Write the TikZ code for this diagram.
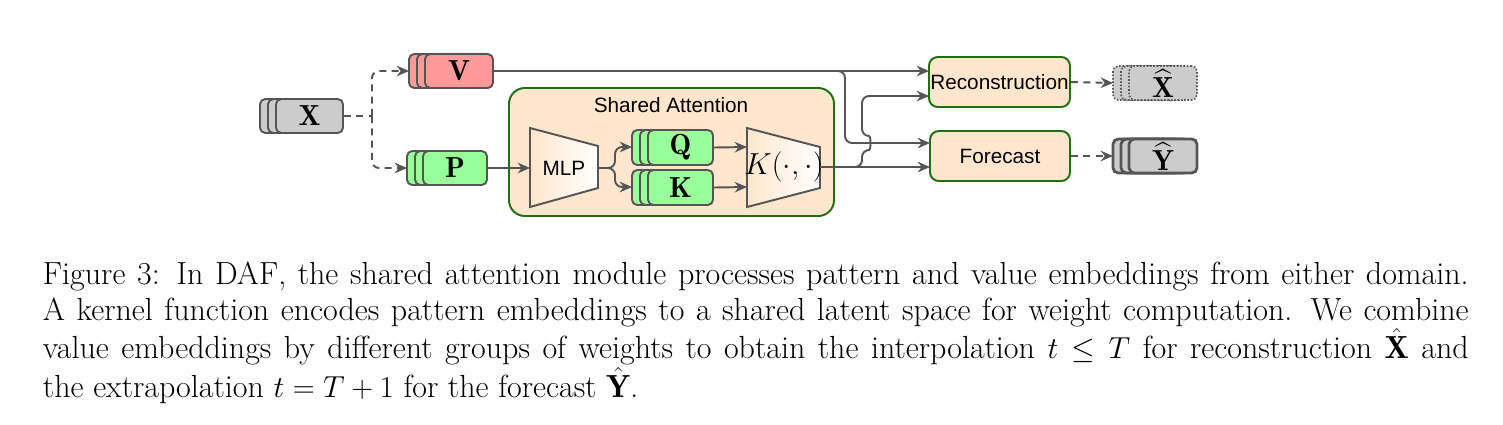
\documentclass[tikz,border=0pt]{standalone}
\usepackage{fontspec}
\newfontfamily\lsans{Liberation Sans}
\usetikzlibrary{arrows.meta}
\definecolor{ln}{HTML}{555555}
\definecolor{peach}{HTML}{FFE6CC}
\definecolor{dg}{HTML}{1F6E0F}
\definecolor{redf}{HTML}{FF9A9A}
\definecolor{grnf}{HTML}{99FF99}
\definecolor{gryf}{HTML}{CCCCCC}
\newcommand\stk[8]{% name, x1, y1, x2, y2, fill, label, extra style
  \draw[#8,fill=#6,rounded corners=3pt] (#2,#3) rectangle (#4-16,#5);
  \draw[#8,fill=#6,rounded corners=3pt] (#2+8,#3) rectangle (#4-8,#5);
  \node[#8,fill=#6,rounded corners=3pt,inner sep=0pt,
        minimum width={(#4-#2-16)*0.02cm},minimum height={(#5-#3)*0.02cm},
        font=\fontsize{16.5}{18}\selectfont] (#1) at ({(#2+16+#4)/2},{(#3+#5)/2}) {$\mathbf{#7}$};
}
\begin{document}
\begin{tikzpicture}[x=0.02cm,y=-0.02cm,line width=1.1pt,
  bx/.style={draw=ln},
  wire/.style={draw=ln,line width=1.1pt,-{Stealth[length=7pt,width=6pt]}},
  dwire/.style={wire,dash pattern=on 4pt off 3pt},
  blk/.style={draw=dg,fill=peach,rounded corners=5pt,line width=1.1pt,font=\lsans\fontsize{11.8}{13}\selectfont,inner sep=0pt}]
\useasboundingbox (0,0) rectangle (1503,424);

% shared attention
\node[blk,minimum width=325*0.02cm,minimum height=128*0.02cm,rounded corners=9pt] (SA) at (671.5,152) {};
\node[font=\lsans\fontsize{11.8}{13}\selectfont] (SAt) at (671,105) {Shared Attention};

% stacks
\stk{X}{260}{99}{343}{133}{gryf}{X}{bx}
\stk{V}{409}{54}{493}{88}{redf}{V}{bx}
\stk{P}{407}{151}{487}{185}{grnf}{P}{bx}
\stk{Q}{632}{130}{713}{165}{grnf}{Q}{bx}
\stk{K}{632}{170}{713}{205}{grnf}{K}{bx}
\stk{Xh}{1113}{66}{1197}{100}{gryf}{\hat{X}}{draw=ln,densely dotted,line width=0.9pt}
\stk{Yh}{1113}{139}{1197}{173}{gryf}{\hat{Y}}{draw=ln,line width=1.6pt}

% trapezoids
\draw[ln,left color=peach,right color=white] (530,128) -- (598,146) -- (598,188) -- (530,207) -- cycle;
\node[font=\lsans\fontsize{11.8}{13}\selectfont] (MLP) at (564,168) {MLP};
\draw[ln,left color=peach,right color=white] (747,128) -- (820,147) -- (820,188) -- (747,207) -- cycle;
\node[font=\fontsize{16}{18}\selectfont,inner sep=0pt] (Kf) at (784,167) {$K(\cdot,\cdot)$};
\coordinate (MLPin) at (530,168);
\coordinate (MLPout) at (598,168);
\coordinate (Kin1) at (747,147);
\coordinate (Kin2) at (747,187);
\coordinate (Kout) at (820,167);

% outputs
\node[blk,minimum width=141*0.02cm,minimum height=50*0.02cm] (R) at (999.5,82) {Reconstruction};
\node[blk,minimum width=140*0.02cm,minimum height=50*0.02cm] (F) at (1000,156) {Forecast};

% dashed inputs
\draw[ln,dash pattern=on 4pt off 3pt] (X.east) -- (372,116) coordinate (sp);
\draw[dwire,rounded corners=4pt] (sp) -- (372,71) -- (409,71);
\draw[dwire,rounded corners=4pt] (sp) -- (372,168) -- (407,168);
\draw[dwire] (R.east) -- (1113,83);
\draw[dwire] (F.east) -- (1113,156);

% solid
\draw[wire] (P.east) -- (MLPin);
\draw[wire,rounded corners=4pt] (MLPout) -- (615,168) -- (615,147) -- (632,147);
\draw[wire,rounded corners=4pt] (MLPout) -- (615,168) -- (615,187) -- (632,187);
\draw[wire] (Q.east) -- (Kin1);
\draw[wire] (K.east) -- (Kin2);
\draw[wire] (V.east) -- (929,71);
\draw[wire,rounded corners=4pt] (V.east) -- (845,71) -- (845,143) -- (930,143);
\draw[wire] (Kout) -- (930,167);
\draw[wire,rounded corners=4pt] (Kout) -- (862,167) -- (862,150) .. controls (871,150) and (871,136) .. (862,136) -- (862,96) -- (929,96);

% caption
\node[anchor=north west,text width=28.52cm,align=justify,inner sep=0pt,
      font=\fontsize{18.2}{20.5}\selectfont] (cap) at (42,261) {%
Figure 3: In DAF, the shared attention module processes pattern and value embeddings from either domain.\linebreak
A kernel function encodes pattern embeddings to a shared latent space for weight computation. We combine\linebreak
value embeddings by different groups of weights to obtain the interpolation $t\leq T$ for reconstruction $\hat{\mathbf{X}}$ and\linebreak
the extrapolation $t=T+1$ for the forecast $\hat{\mathbf{Y}}$.};
\end{tikzpicture}
\end{document}
